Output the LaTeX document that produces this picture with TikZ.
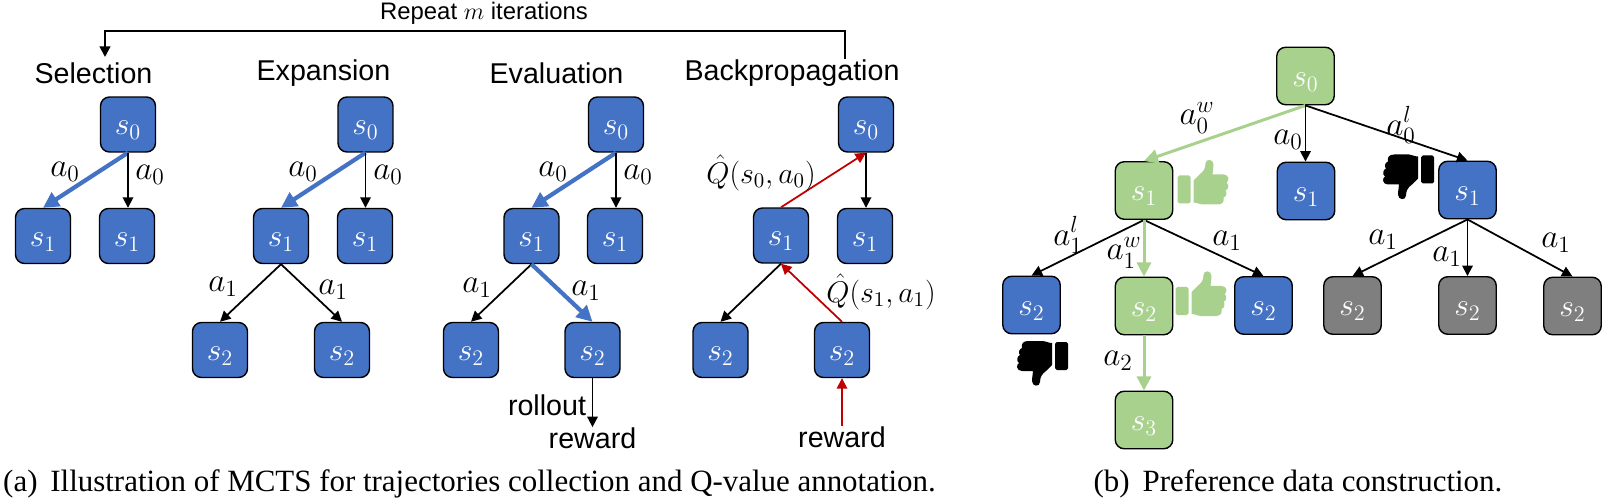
\documentclass[tikz,border=0pt]{standalone}
\usepackage{fix-cm}
\usepackage{amsmath, amssymb, amstext}
\usepackage{fontspec}
\setmainfont{Liberation Sans}
\newfontfamily\captionfont{Liberation Serif}
\usepackage{tikz}
\usetikzlibrary{arrows.meta}
\definecolor{stateBlue}{RGB}{68, 114, 196}
\definecolor{stateGreen}{RGB}{169, 209, 142}
\definecolor{stateGray}{RGB}{127, 127, 127}
\definecolor{backRed}{RGB}{192, 0, 0}
\newcommand{\stateLabel}[1]{\smash{\raisebox{-0.21cm}{$#1$}}}
\tikzset{>={Triangle[length=6pt,width=6pt]}}
\tikzset{myState/.style={draw=black, line width=0.8pt, rounded corners=0.18cm, minimum size=1.1cm, inner sep=0pt, text=white, fill=stateBlue, font=\fontsize{18}{20}\selectfont}}
\tikzset{myBigState/.style={myState, minimum size=1.15cm}}
\tikzset{myWinState/.style={myBigState, fill=stateGreen}}
\tikzset{myOutState/.style={myBigState, fill=stateGray}}
\tikzset{myEdge/.style={line width=1pt, color=black, ->}}
\tikzset{myBlueEdge/.style={line width=2.4pt, color=stateBlue, ->, >={Triangle[length=9pt,width=9pt]}}}
\tikzset{myGreenEdge/.style={line width=1.7pt, color=stateGreen, ->, >={Triangle[length=8pt,width=8pt]}}}
\tikzset{myRedEdge/.style={line width=1pt, color=backRed, ->}}
\tikzset{myEdgeText/.style={inner sep=0pt, font=\fontsize{19}{21}\selectfont}}
\tikzset{myQText/.style={inner sep=0pt, font=\fontsize{17}{19}\selectfont}}
\tikzset{myTitle/.style={inner sep=0pt, font=\fontsize{16.3}{18}\selectfont}}
\tikzset{myCaption/.style={inner sep=0pt, font=\captionfont\fontsize{17.6}{20}\selectfont}}
\tikzset{myThumb/.pic={
	\path[pic actions, rounded corners=1pt](-25,-7) rectangle (-12,21);
	\path[pic actions](-9,-2) -- (-3,-8) .. controls (1,-11) and (3,-14) .. (3,-19) .. controls (3,-24) and (11,-24) .. (11,-18) .. controls (11,-14) and (10,-11) .. (10,-8) -- (21,-8) .. controls (27,-8) and (27,-1) .. (24,0) .. controls (27,2) and (26,7) .. (23,8) .. controls (25,10) and (24,14) .. (21,15) .. controls (22,19) and (20,22) .. (15,22) -- (0,22) .. controls (-3,22) and (-5,20) .. (-9,20) -- cycle;
}}

\begin{document}
\begin{tikzpicture}[x=0.02cm, y=-0.02cm]
	\useasboundingbox (0,0) rectangle (1606,503);

	% selection
	\node[myTitle] (selTitle) at (93.5,73) {Selection};
	\node[myState] (selA) at (128,124.5) {\stateLabel{s_0}};
	\node[myState] (selB) at (43,236) {\stateLabel{s_1}};
	\node[myState] (selC) at (127,236) {\stateLabel{s_1}};
	\draw[myBlueEdge](selA.south) -- (selB.north);
	\draw[myEdge](selA.south) -- (selA.south |- selC.north);
	\node[myEdgeText] (selLabA) at (65,172) {$a_0$};
	\node[myEdgeText] (selLabB) at (150,175) {$a_0$};

	% expansion
	\node[myTitle] (expTitle) at (323.5,73) {Expansion};
	\node[myState] (expA) at (365.5,124.5) {\stateLabel{s_0}};
	\node[myState] (expB) at (281,236) {\stateLabel{s_1}};
	\node[myState] (expC) at (365,236) {\stateLabel{s_1}};
	\node[myState] (expD) at (220,350) {\stateLabel{s_2}};
	\node[myState] (expE) at (342,350) {\stateLabel{s_2}};
	\draw[myBlueEdge](expA.south) -- (expB.north);
	\draw[myEdge](expA.south) -- (expA.south |- expC.north);
	\draw[myEdge](expB.south) -- (expD.north);
	\draw[myEdge](expB.south) -- (expE.north);
	\node[myEdgeText] (expLabA) at (303,172) {$a_0$};
	\node[myEdgeText] (expLabB) at (388,175) {$a_0$};
	\node[myEdgeText] (expLabC) at (223,287) {$a_1$};
	\node[myEdgeText] (expLabD) at (333,290) {$a_1$};

	% evaluation
	\node[myTitle] (evaTitle) at (556.5,73) {Evaluation};
	\node[myState] (evaA) at (616,124.5) {\stateLabel{s_0}};
	\node[myState] (evaB) at (531.5,236) {\stateLabel{s_1}};
	\node[myState] (evaC) at (615,236) {\stateLabel{s_1}};
	\node[myState] (evaD) at (471,350) {\stateLabel{s_2}};
	\node[myState] (evaE) at (592.5,350) {\stateLabel{s_2}};
	\node[myTitle] (evaReward) at (592.5,438) {reward};
	\node[myTitle] (evaRollout) at (547,405) {rollout};
	\draw[myBlueEdge](evaA.south) -- (evaB.north);
	\draw[myEdge](evaA.south) -- (evaA.south |- evaC.north);
	\draw[myEdge](evaB.south) -- (evaD.north);
	\draw[myBlueEdge](evaB.south) -- (evaE.north);
	\draw[myEdge](evaE.south) -- (evaReward.north);
	\node[myEdgeText] (evaLabA) at (553,172) {$a_0$};
	\node[myEdgeText] (evaLabB) at (638,175) {$a_0$};
	\node[myEdgeText] (evaLabC) at (477,288) {$a_1$};
	\node[myEdgeText] (evaLabD) at (586,291) {$a_1$};

	% backpropagation
	\node[myTitle] (bakTitle) at (792,73) {Backpropagation};
	\node[myState] (bakA) at (866,124.5) {\stateLabel{s_0}};
	\node[myState] (bakB) at (781,235.5) {\stateLabel{s_1}};
	\node[myState] (bakC) at (865,236) {\stateLabel{s_1}};
	\node[myState] (bakD) at (720.5,350) {\stateLabel{s_2}};
	\node[myState] (bakE) at (842,350) {\stateLabel{s_2}};
	\node[myTitle] (bakReward) at (842,437) {reward};
	\draw[myRedEdge](bakB.north) -- (bakA.south);
	\draw[myEdge](bakA.south) -- (bakA.south |- bakC.north);
	\draw[myEdge](bakB.south) -- (bakD.north);
	\draw[myRedEdge](bakE.north) -- (bakB.south);
	\draw[myRedEdge](bakReward.north) -- (bakE.south);
	\node[myQText] (bakLabA) at (761,173) {$\hat{Q}(s_0,a_0)$};
	\node[myQText] (bakLabB) at (881,292) {$\hat{Q}(s_1,a_1)$};

	% repeat loop on top
	\node[inner sep=0pt, font=\fontsize{13.6}{16}\selectfont] (loopText) at (484,13) {Repeat $m$ iterations};
	\coordinate (loopEnd) at (845,59);
	\coordinate (loopStart) at (105,57);
	\draw[myEdge, line width=1.2pt](loopEnd) |- (loopStart |- 0,30.7) -- (loopStart);

	% preference tree
	\node[myWinState] (prefA) at (1305.5,76) {\stateLabel{s_0}};
	\node[myWinState] (prefB) at (1144,190.5) {\stateLabel{s_1}};
	\node[myBigState] (prefC) at (1306,191) {\stateLabel{s_1}};
	\node[myBigState] (prefD) at (1467.5,190) {\stateLabel{s_1}};
	\node[myBigState] (prefE) at (1031.5,305) {\stateLabel{s_2}};
	\node[myWinState] (prefF) at (1144,306) {\stateLabel{s_2}};
	\node[myBigState] (prefG) at (1263.5,305.5) {\stateLabel{s_2}};
	\node[myOutState] (prefH) at (1352.5,305.5) {\stateLabel{s_2}};
	\node[myOutState] (prefI) at (1467.5,305.5) {\stateLabel{s_2}};
	\node[myOutState] (prefJ) at (1572.5,306) {\stateLabel{s_2}};
	\node[myWinState] (prefK) at (1144,420) {\stateLabel{s_3}};
	\draw[myGreenEdge](prefA.south) -- (prefB.north);
	\draw[myEdge](prefA.south) -- (prefA.south |- prefC.north);
	\draw[myEdge](prefA.south) -- (prefD.north);
	\draw[myEdge](prefB.south) -- (prefE.north);
	\draw[myEdge](prefB.south) -- (prefG.north);
	\draw[myGreenEdge](prefB.south) -- (prefF.north);
	\draw[myGreenEdge](prefF.south) -- (prefK.north);
	\draw[myEdge](prefD.south) -- (prefH.north);
	\draw[myEdge](prefD.south) -- (prefI.north);
	\draw[myEdge](prefD.south) -- (prefJ.north);
	\node[myEdgeText] (prefLabA) at (1197,118) {$a_0^w$};
	\node[myEdgeText] (prefLabB) at (1288,140) {$a_0$};
	\node[myEdgeText] (prefLabC) at (1401,125) {$a_0^l$};
	\node[myEdgeText] (prefLabD) at (1068,235) {$a_1^l$};
	\node[myEdgeText] (prefLabE) at (1124,253) {$a_1^w$};
	\node[myEdgeText] (prefLabF) at (1227,241) {$a_1$};
	\node[myEdgeText] (prefLabG) at (1383,240) {$a_1$};
	\node[myEdgeText] (prefLabH) at (1447,257) {$a_1$};
	\node[myEdgeText] (prefLabI) at (1556,243) {$a_1$};
	\node[myEdgeText] (prefLabJ) at (1118,361) {$a_2$};

	% thumbs
	\pic[fill=stateGreen] at (1202.5,182.5) {myThumb};
	\pic[fill=stateGreen] at (1200.5,294) {myThumb};
	\pic[fill=black, rotate=180] at (1043,363) {myThumb};
	\pic[fill=black, rotate=180] at (1409,176.5) {myThumb};

	% captions
	\node[myCaption] (capA) at (469.5,484) {(a)\, Illustration of MCTS for trajectories collection and Q-value annotation.};
	\node[myCaption] (capB) at (1298,484) {(b)\, Preference data construction.};
\end{tikzpicture}
\end{document}
